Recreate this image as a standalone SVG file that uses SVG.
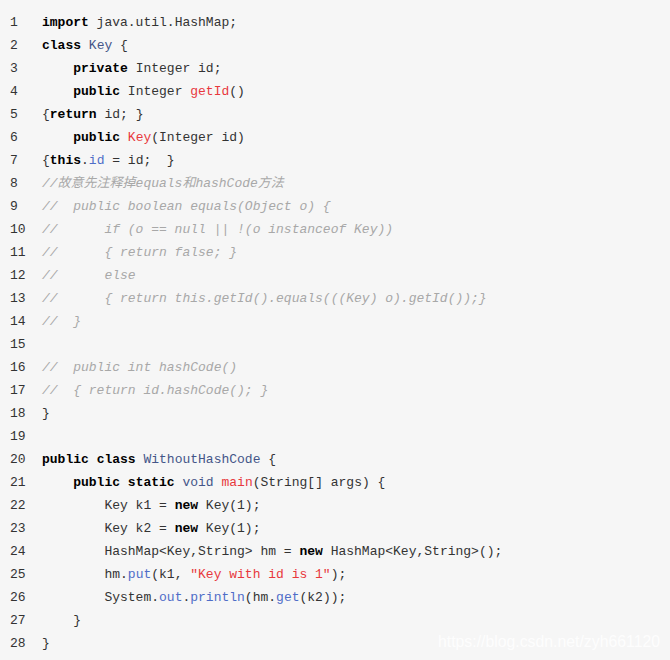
<svg xmlns="http://www.w3.org/2000/svg" width="670" height="660" viewBox="0 0 670 660">
<style>
text{font-family:"Liberation Mono","DejaVu Sans Mono","Noto Sans CJK SC",monospace;font-size:13px;fill:#333;white-space:pre}
.n{fill:#333}
.k{font-weight:bold;fill:#000}
.t{fill:#445588}
.b{fill:#4f6dc8}
.r{fill:#e8383d}
.c{fill:#a8a8a8;font-style:italic}
.w{font-family:"Liberation Sans",Arial,sans-serif;font-size:17px;fill:#fff;fill-opacity:0.85}
</style>
<rect x="0" y="0" width="670" height="660" fill="#f6f6f6"/>
<g id="numbers" class="n">
<text x="10" y="26">1</text><text x="10" y="49">2</text><text x="10" y="72">3</text><text x="10" y="95">4</text><text x="10" y="118">5</text><text x="10" y="141">6</text><text x="10" y="164">7</text><text x="10" y="187">8</text><text x="10" y="210">9</text><text x="10" y="233">10</text><text x="10" y="256">11</text><text x="10" y="279">12</text><text x="10" y="302">13</text><text x="10" y="325">14</text><text x="10" y="348">15</text><text x="10" y="371">16</text><text x="10" y="394">17</text><text x="10" y="417">18</text><text x="10" y="440">19</text><text x="10" y="463">20</text><text x="10" y="486">21</text><text x="10" y="509">22</text><text x="10" y="532">23</text><text x="10" y="555">24</text><text x="10" y="578">25</text><text x="10" y="601">26</text><text x="10" y="624">27</text><text x="10" y="647">28</text>
</g>
<g id="code">
<text x="42" y="26"><tspan class="k">import</tspan> java.util.HashMap;</text>
<text x="42" y="49"><tspan class="k">class</tspan> <tspan class="t">Key</tspan> {</text>
<text x="42" y="72">    <tspan class="k">private</tspan> Integer id;</text>
<text x="42" y="95">    <tspan class="k">public</tspan> Integer <tspan class="r">getId</tspan>()</text>
<text x="42" y="118">{<tspan class="k">return</tspan> id; }</text>
<text x="42" y="141">    <tspan class="k">public</tspan> <tspan class="r">Key</tspan>(Integer id)</text>
<text x="42" y="164">{<tspan class="k">this</tspan>.<tspan class="b">id</tspan> = id;  }</text>
<text x="42" y="187" class="c">//故意先注释掉equals和hashCode方法</text>
<text x="42" y="210" class="c">//  public boolean equals(Object o) {</text>
<text x="42" y="233" class="c">//      if (o == null || !(o instanceof Key))</text>
<text x="42" y="256" class="c">//      { return false; }</text>
<text x="42" y="279" class="c">//      else</text>
<text x="42" y="302" class="c">//      { return this.getId().equals(((Key) o).getId());}</text>
<text x="42" y="325" class="c">//  }</text>
<text x="42" y="371" class="c">//  public int hashCode()</text>
<text x="42" y="394" class="c">//  { return id.hashCode(); }</text>
<text x="42" y="417">}</text>
<text x="42" y="463"><tspan class="k">public</tspan> <tspan class="k">class</tspan> <tspan class="t">WithoutHashCode</tspan> {</text>
<text x="42" y="486">    <tspan class="k">public</tspan> <tspan class="k">static</tspan> <tspan class="t">void</tspan> <tspan class="r">main</tspan>(String[] args) {</text>
<text x="42" y="509">        Key k1 = <tspan class="k">new</tspan> Key(1);</text>
<text x="42" y="532">        Key k2 = <tspan class="k">new</tspan> Key(1);</text>
<text x="42" y="555">        HashMap&lt;Key,String&gt; hm = <tspan class="k">new</tspan> HashMap&lt;Key,String&gt;();</text>
<text x="42" y="578">        hm.<tspan class="b">put</tspan>(k1, <tspan class="r">"Key with id is 1"</tspan>);</text>
<text x="42" y="601">        System.<tspan class="b">out</tspan>.<tspan class="b">println</tspan>(hm.<tspan class="b">get</tspan>(k2));</text>
<text x="42" y="624">    }</text>
<text x="42" y="647">}</text>
</g>
<text class="w" x="438" y="647" textLength="222" lengthAdjust="spacingAndGlyphs">https://blog.csdn.net/zyh661120</text>
</svg>
